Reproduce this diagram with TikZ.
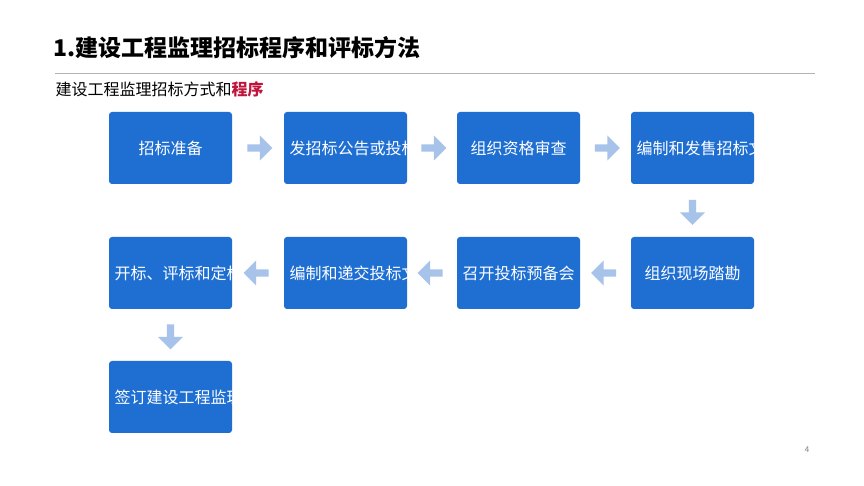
\documentclass[tikz,border=0pt]{standalone}
\usepackage{fontspec}
\setmainfont{Noto Sans CJK SC}
\usetikzlibrary{positioning}
\usetikzlibrary{calc}
\usetikzlibrary{shapes.arrows}
\definecolor{boxblue}{HTML}{1F6FD3}
\definecolor{arrowblue}{HTML}{A7C3EA}
\definecolor{keyred}{HTML}{C0143C}
\tikzset{
  stepbox/.style={draw=none, fill=boxblue, rounded corners=3pt, text=white, minimum width=123pt, minimum height=72pt, text width=112pt, align=center, font=\fontsize{16}{23}\selectfont},
  blockarrow/.style={single arrow, fill=arrowblue, draw=none, minimum height=25pt, minimum width=25pt, single arrow head extend=3pt, inner sep=1pt}
}
\begin{document}
\begin{tikzpicture}[x=1pt,y=1pt]
  \useasboundingbox (0,0) rectangle (864,486);
  \fill[white] (0,0) rectangle (864,486);
  % titles
  \node[anchor=west, font=\fontsize{23}{26}\selectfont\bfseries] (title) at (50,438) {1.建设工程监理招标程序和评标方法};
  \draw[gray!60, line width=0.8pt] (55,413) -- (815,413);
  \node[anchor=west, font=\fontsize{16}{18}\selectfont] (sub) at (52,397) {建设工程监理招标方式和\textcolor{keyred}{\bfseries 程序}};
  \node[font=\fontsize{8}{9}\selectfont, text=gray] (page) at (807,36) {4};
  % first row
  \node[stepbox] (s1) at (170.5,338) {招标准备};
  \node[stepbox] (s2) at (345.5,338) {发招标公告或投标邀请书};
  \node[stepbox] (s3) at (518.5,338) {组织资格审查};
  \node[stepbox] (s4) at (692.5,338) {编制和发售招标文件};
  % second row
  \node[stepbox] (s5) at (692.5,213) {组织现场踏勘};
  \node[stepbox] (s6) at (518.5,213) {召开投标预备会};
  \node[stepbox] (s7) at (345.5,213) {编制和递交投标文件};
  \node[stepbox] (s8) at (170.5,213) {开标、评标和定标};
  % third row
  \node[stepbox] (s9) at (170.5,89) {签订建设工程监理合同};
  % arrows
  \node[blockarrow] (a1) at ($(s1.east)!0.5!(s2.west)$) {};
  \node[blockarrow] (a2) at ($(s2.east)!0.5!(s3.west)$) {};
  \node[blockarrow] (a3) at ($(s3.east)!0.5!(s4.west)$) {};
  \node[blockarrow, shape border rotate=270] (a4) at ($(s4.south)!0.5!(s5.north)$) {};
  \node[blockarrow, shape border rotate=180] (a5) at ($(s5.west)!0.5!(s6.east)$) {};
  \node[blockarrow, shape border rotate=180] (a6) at ($(s6.west)!0.5!(s7.east)$) {};
  \node[blockarrow, shape border rotate=180] (a7) at ($(s7.west)!0.5!(s8.east)$) {};
  \node[blockarrow, shape border rotate=270] (a8) at ($(s8.south)!0.5!(s9.north)$) {};
\end{tikzpicture}
\end{document}
